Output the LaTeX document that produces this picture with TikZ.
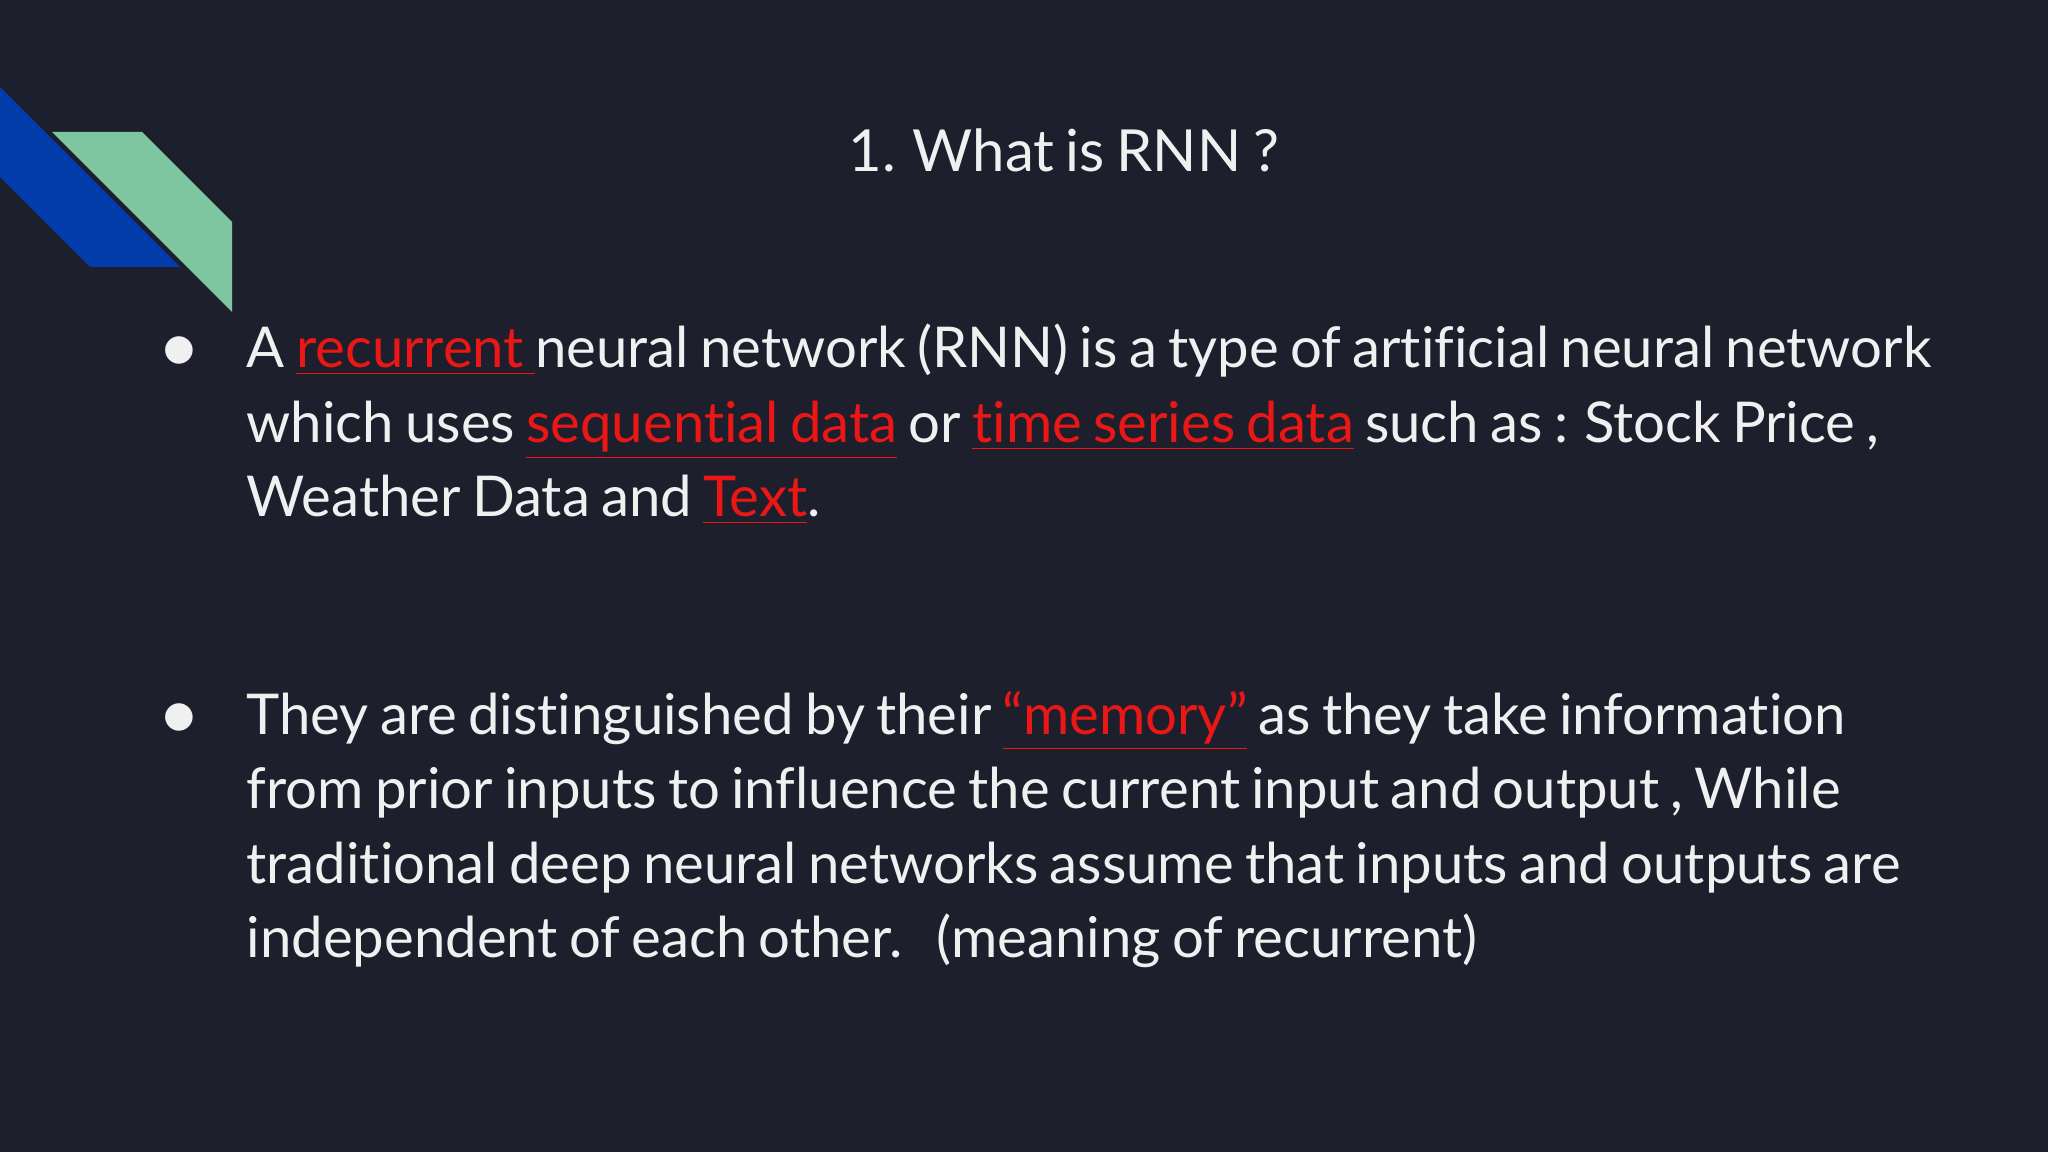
\documentclass[tikz,border=0pt]{standalone}
\usepackage{fontspec}
\setmainfont{Lato}[Ligatures=NoCommon]
\definecolor{bg}{RGB}{29,32,44}
\definecolor{fg}{RGB}{240,240,240}
\definecolor{hl}{RGB}{235,22,22}
\definecolor{blu}{RGB}{2,60,170}
\definecolor{grn}{RGB}{126,198,160}
\newcommand{\hlu}[1]{\textcolor{hl}{\underline{#1}}}
\newcommand{\tightsp}{\spaceskip=0.2em plus 0.05em\relax}
\begin{document}
\begin{tikzpicture}[x=0.01cm,y=-0.01cm,
  line/.style={anchor=base west,inner sep=0pt,text=fg,font=\fontsize{16}{20}\selectfont,execute at begin node=\tightsp},
  bul/.style={anchor=base,inner sep=0pt,text=fg,font=\fontsize{16}{20}\selectfont}]
\fill[bg] (0,0) rectangle (2048,1152);
\useasboundingbox (0,0) rectangle (2048,1152);
\fill[blu] (0,87) -- (180,267) -- (90,267) -- (0,177) -- cycle;
\fill[grn] (52,132) -- (142,132) -- (232,222) -- (232,312) -- cycle;
\node[anchor=base,inner sep=0pt,text=fg,font=\fontsize{16.5}{20}\selectfont,execute at begin node=\tightsp] (title) at (1064,172) {1. What is RNN ?};
\node[bul] (b1) at (179,368) {●};
\node[line] (l1) at (246,368) {A \hlu{recurrent }neural network (RNN) is a type of artificial neural network};
\node[line] (l2) at (246,443) {which uses \hlu{sequential data} or \hlu{time series data} such as : Stock Price ,};
\node[line] (l3) at (246,517) {Weather Data and \hlu{Text}.};
\node[bul] (b2) at (179,734) {●};
\node[line] (m1) at (246,734) {They are distinguished by their \hlu{“memory”} as they take information};
\node[line] (m2) at (246,808) {from prior inputs to influence the current input and output , While};
\node[line] (m3) at (246,883) {traditional deep neural networks assume that inputs and outputs are};
\node[line] (m4) at (246,957) {independent of each other.\ \ \ (meaning of recurrent)};
\end{tikzpicture}
\end{document}
